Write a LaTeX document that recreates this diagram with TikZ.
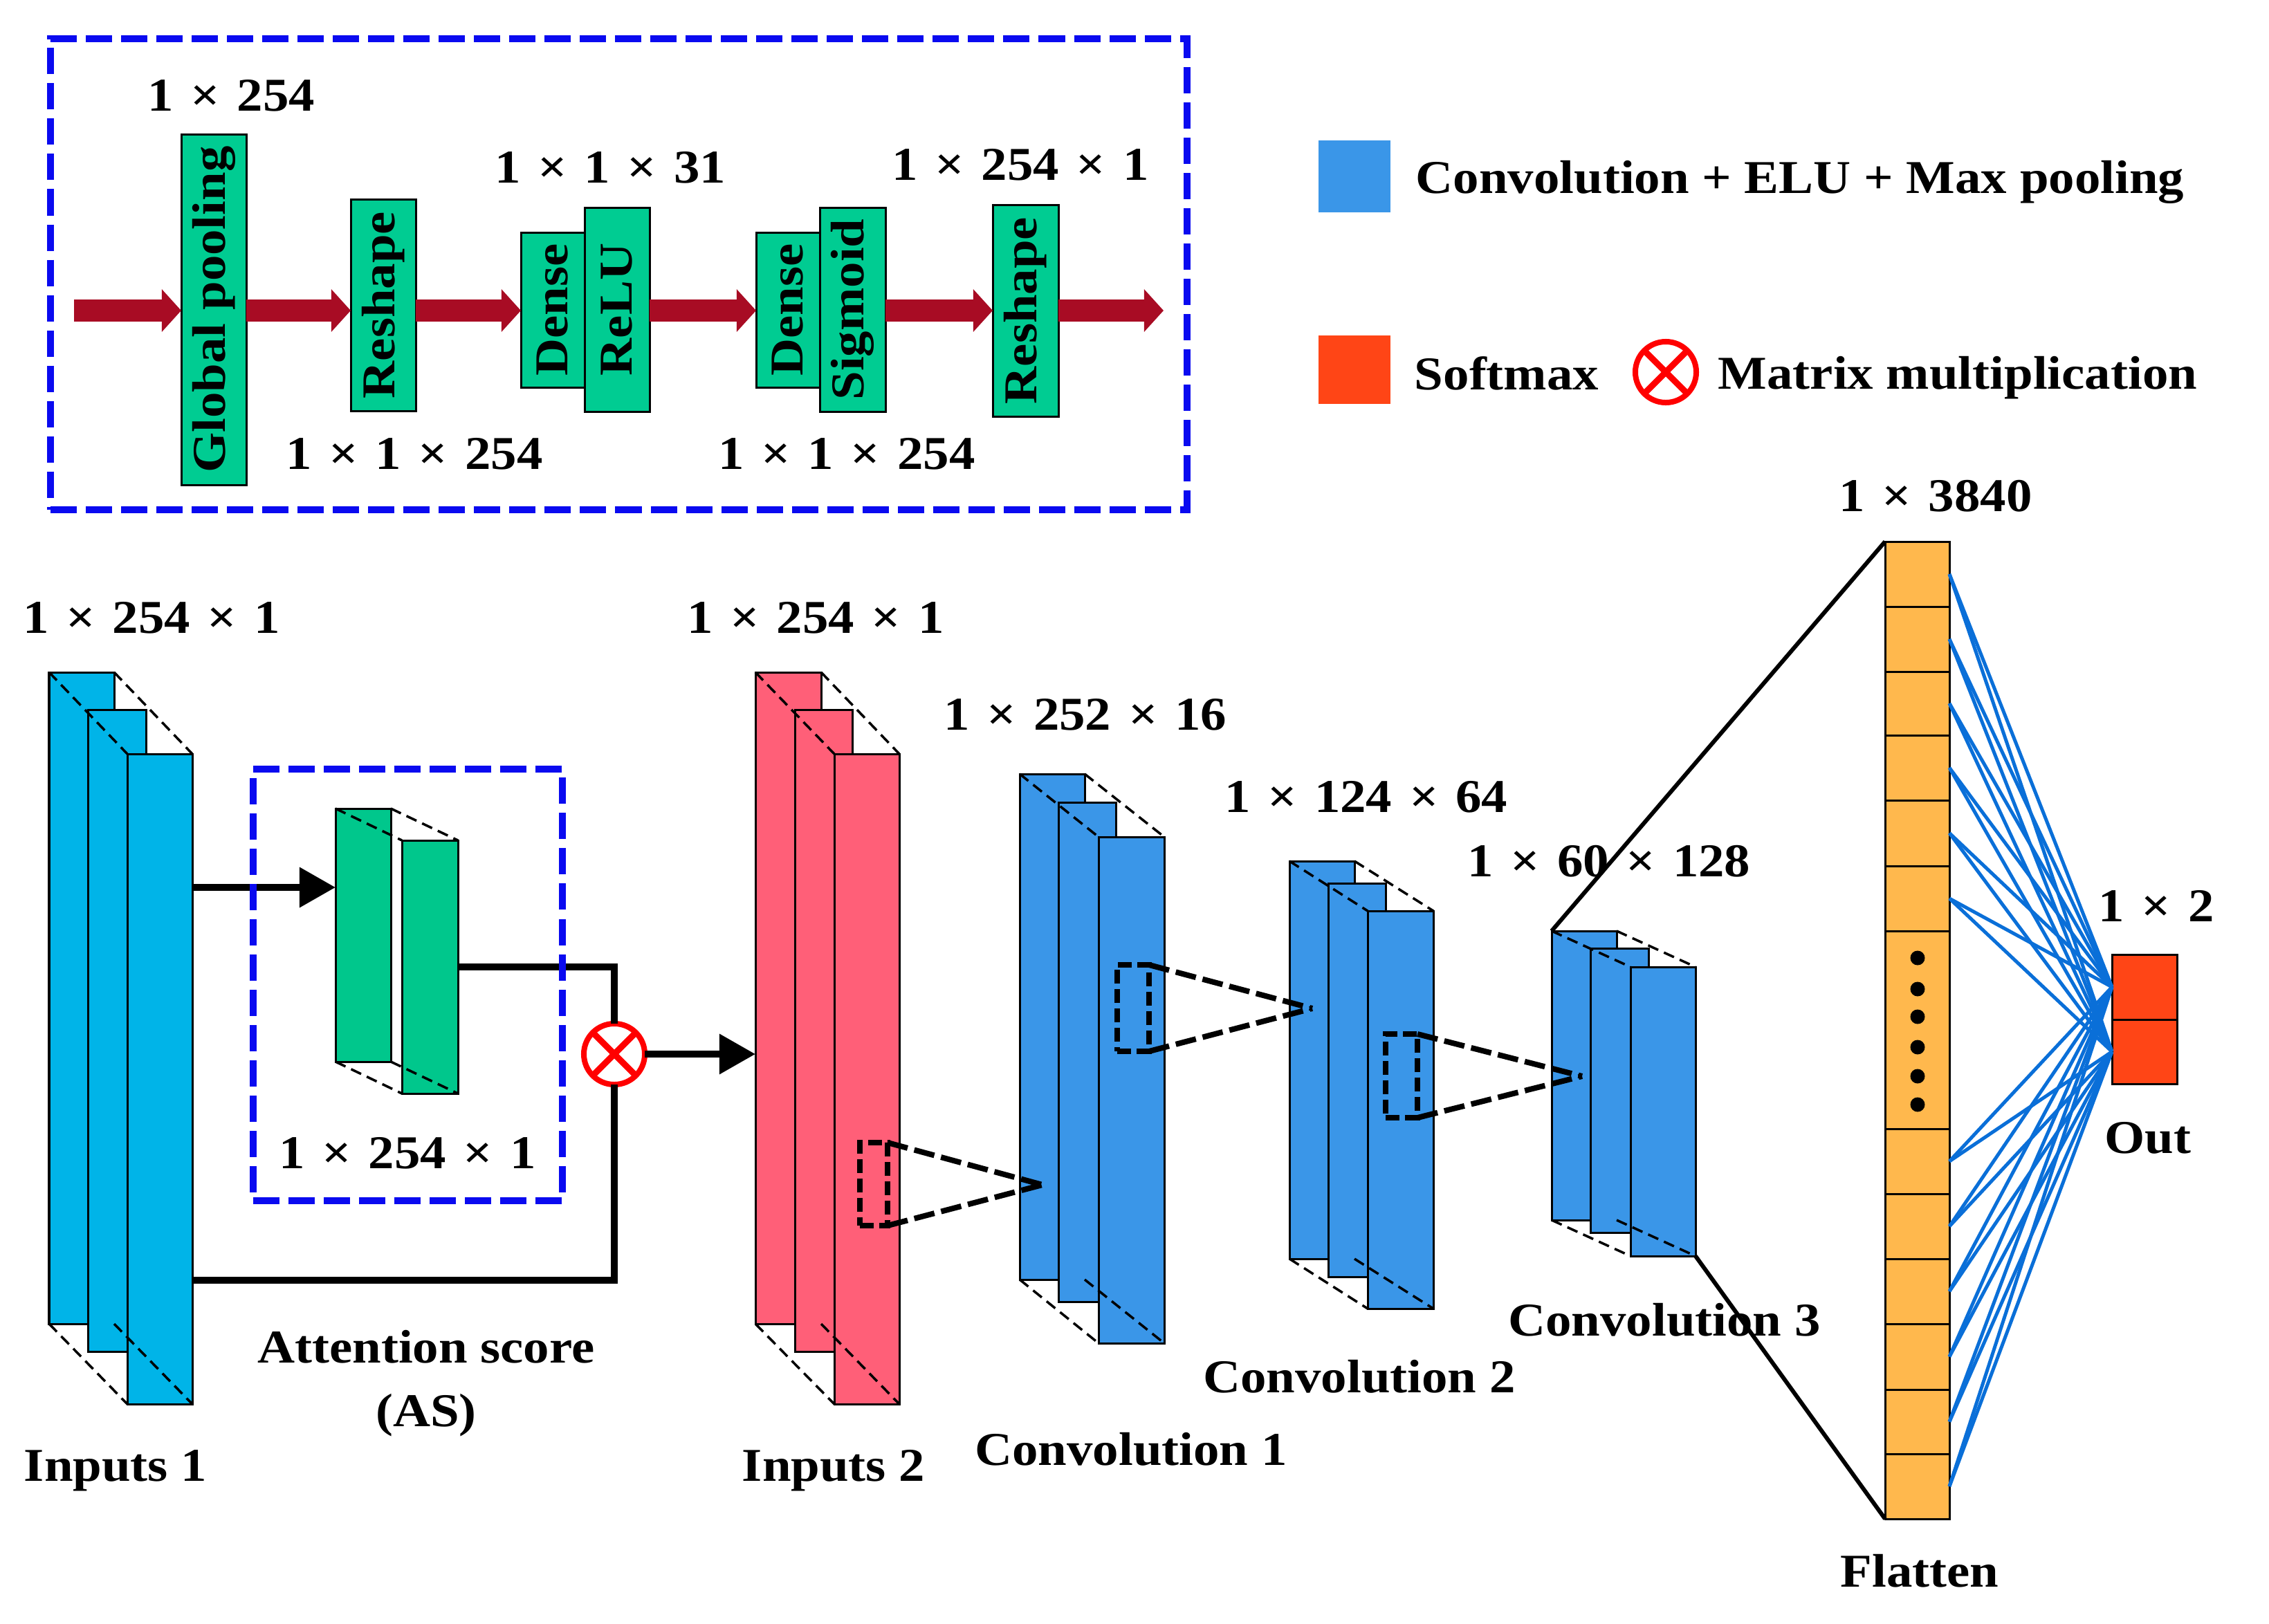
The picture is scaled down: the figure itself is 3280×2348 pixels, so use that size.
\documentclass[tikz,border=0pt]{standalone}
\usepackage{fontspec}
\setmainfont{Liberation Serif}[FakeStretch=1.1]
\usetikzlibrary{arrows.meta}
\definecolor{topgreen}{HTML}{00CC92}
\definecolor{asgreen}{HTML}{00C78C}
\definecolor{inblue}{HTML}{00B4E8}
\definecolor{inred}{HTML}{FF5F78}
\definecolor{convblue}{HTML}{3A96E8}
\definecolor{flatorange}{HTML}{FFB84D}
\definecolor{outred}{HTML}{FF4516}
\definecolor{arrowred}{HTML}{A80C24}
\definecolor{linkblue}{HTML}{0A6FD8}
\definecolor{boxblue}{HTML}{0A0AF0}
\tikzset{
  layer/.style={draw=black,line width=0.03cm,inner sep=0pt,outer sep=0pt},
  lbl/.style={font=\fontsize{19.35}{26.2}\selectfont\bfseries,align=center,inner sep=0pt},
  depth/.style={draw=black,line width=0.035cm,dash pattern=on 0.16cm off 0.09cm},
  panel/.style={draw=boxblue,line width=0.1cm,dash pattern=on 0.38cm off 0.13cm,inner sep=0pt,outer sep=0pt},
  window/.style={draw=black,line width=0.08cm,dash pattern=on 0.2cm off 0.08cm,inner sep=0pt,outer sep=0pt},
  zoomline/.style={draw=black,line width=0.08cm,dash pattern=on 0.3cm off 0.1cm},
  redarrow/.style={draw=arrowred,line width=0.32cm,-{Triangle[length=0.28cm,width=0.6cm]}},
  conn/.style={draw=black,line width=0.1cm},
  connarrow/.style={conn,-{Triangle[length=0.52cm,width=0.56cm]}},
  fan/.style={draw=black,line width=0.06cm},
  link/.style={draw=linkblue,line width=0.05cm},
  mulnode/.style={circle,draw=red,fill=white,line width=0.08cm,minimum size=0.88cm,inner sep=0pt,outer sep=0pt},
  mulcross/.style={draw=red,line width=0.09cm},
  flatdot/.style={circle,fill=black,minimum size=0.21cm,inner sep=0pt}
}
\newcommand{\boxat}[7]{\node[#1,minimum width={(#5-#3)*0.01cm},minimum height={(#6-#4)*0.01cm}] (#2) at ({(#3+#5)/2},{(#4+#6)/2}) {#7};}
\newcommand{\sidetext}[1]{\rotatebox{90}{\fontsize{19.35}{23}\selectfont\bfseries #1}}
\newcommand{\tms}{\hspace{0.06cm}×\hspace{0.06cm}}
\newcommand{\depthlines}[2]{
\draw[depth] (#1.north west) -- (#2.north west);
\draw[depth] (#1.north east) -- (#2.north east);
\draw[depth] (#1.south west) -- (#2.south west);
\draw[depth] (#1.south east) -- (#2.south east);
}
\begin{document}
\begin{tikzpicture}[x=0.01cm,y=-0.01cm]
\useasboundingbox (0,0) rectangle (3280,2348);

\boxat{panel}{sepanel}{73}{56}{1716}{737}{}
\boxat{layer,fill=topgreen}{gp}{262}{194}{356}{701}{\sidetext{Global pooling}}
\boxat{layer,fill=topgreen}{rs1}{507}{288}{601}{594}{\sidetext{Reshape}}
\boxat{layer,fill=topgreen}{ds1}{753}{336}{845}{560}{\sidetext{Dense}}
\boxat{layer,fill=topgreen}{relu}{845}{300}{939}{595}{\sidetext{ReLU}}
\boxat{layer,fill=topgreen}{ds2}{1093}{336}{1185}{560}{\sidetext{Dense}}
\boxat{layer,fill=topgreen}{sig}{1185}{300}{1280}{595}{\sidetext{Sigmoid}}
\boxat{layer,fill=topgreen}{rs2}{1435}{296}{1530}{602}{\sidetext{Reshape}}
\coordinate (sein) at (107,449);
\coordinate (seout) at (1682,449);
\draw[redarrow] (sein) -- (gp.west |- sein);
\draw[redarrow] (gp.east |- sein) -- (rs1.west |- sein);
\draw[redarrow] (rs1.east |- sein) -- (ds1.west |- sein);
\draw[redarrow] (relu.east |- sein) -- (ds2.west |- sein);
\draw[redarrow] (sig.east |- sein) -- (rs2.west |- sein);
\draw[redarrow] (rs2.east |- sein) -- (seout);
\node[lbl] (segp) at (334,138) {1 \tms{} 254};
\node[lbl] (sea) at (882,242) {1 \tms{} 1 \tms{} 31};
\node[lbl] (seb) at (1475,238) {1 \tms{} 254 \tms{} 1};
\node[lbl] (sec) at (599,656) {1 \tms{} 1 \tms{} 254};
\node[lbl] (sed) at (1224,656) {1 \tms{} 1 \tms{} 254};

\boxat{layer,draw=none,fill=convblue}{keyconv}{1906}{203}{2010}{307}{}
\boxat{layer,draw=none,fill=outred}{keysoft}{1906}{485}{2010}{584}{}
\node[mulnode] (keymul) at (2408,538) {};
\draw[mulcross] (keymul.north west) -- (keymul.south east);
\draw[mulcross] (keymul.north east) -- (keymul.south west);
\node[lbl] (keyconvt) at (2602,263) {Convolution + ELU + Max pooling};
\node[lbl] (keysoftt) at (2178,540) {Softmax};
\node[lbl] (keymult) at (2830,546) {Matrix multiplication};

\boxat{layer,fill=inblue}{ia}{71}{972}{165}{1914}{}
\boxat{layer,fill=inblue}{ib}{127}{1026}{211}{1954}{}
\boxat{layer,fill=inblue}{ic}{184}{1090}{278}{2030}{}
\depthlines{ia}{ic}
\node[lbl] (isize) at (219,893) {1 \tms{} 254 \tms{} 1};
\node[lbl] (iname) at (167,2126) {Inputs 1};

\boxat{layer,fill=asgreen}{ga}{485}{1169}{565}{1535}{}
\boxat{layer,fill=asgreen}{gb}{581}{1215}{662}{1581}{}
\depthlines{ga}{gb}
\node[lbl] (assize) at (589,1667) {1 \tms{} 254 \tms{} 1};
\node[lbl] (asname) at (616,2000) {Attention score\\(AS)};

\boxat{layer,fill=inred}{ja}{1092}{972}{1187}{1914}{}
\boxat{layer,fill=inred}{jb}{1149}{1026}{1232}{1954}{}
\boxat{layer,fill=inred}{jc}{1206}{1090}{1300}{2030}{}
\depthlines{ja}{jc}
\node[lbl] (jsize) at (1179,893) {1 \tms{} 254 \tms{} 1};
\node[lbl] (jname) at (1205,2126) {Inputs 2};

\node[mulnode] (mul) at (888,1524) {};
\draw[mulcross] (mul.north west) -- (mul.south east);
\draw[mulcross] (mul.north east) -- (mul.south west);
\coordinate (gin) at (485,1283);
\coordinate (iout) at (278,1851);
\draw[connarrow] (ic.east |- gin) -- (gin);
\draw[conn] (gb.east) -| (mul.north);
\draw[conn] (iout) -| (mul.south);
\draw[connarrow] (mul.east) -- (ja.west |- mul.east);
\boxat{panel}{aspanel}{366}{1112}{813}{1736}{}

\boxat{layer,fill=convblue}{ca}{1474}{1119}{1568}{1850}{}
\boxat{layer,fill=convblue}{cb}{1530}{1160}{1613}{1882}{}
\boxat{layer,fill=convblue}{cc}{1588}{1210}{1683}{1942}{}
\depthlines{ca}{cc}
\node[lbl] (csize) at (1569,1033) {1 \tms{} 252 \tms{} 16};
\node[lbl] (cname) at (1635,2095) {Convolution 1};

\boxat{layer,fill=convblue}{da}{1864}{1245}{1958}{1820}{}
\boxat{layer,fill=convblue}{db}{1920}{1277}{2003}{1846}{}
\boxat{layer,fill=convblue}{dc}{1977}{1317}{2072}{1892}{}
\depthlines{da}{dc}
\node[lbl] (dsize) at (1975,1152) {1 \tms{} 124 \tms{} 64};
\node[lbl] (dname) at (1965,1990) {Convolution 2};

\boxat{layer,fill=convblue}{ea}{2243}{1346}{2337}{1764}{}
\boxat{layer,fill=convblue}{eb}{2299}{1371}{2383}{1782}{}
\boxat{layer,fill=convblue}{ec}{2357}{1398}{2451}{1816}{}
\depthlines{ea}{ec}
\node[lbl] (esize) at (2326,1245) {1 \tms{} 60 \tms{} 128};
\node[lbl] (ename) at (2406,1908) {Convolution 3};

\boxat{window}{wa}{1243}{1652}{1283}{1772}{}
\boxat{window}{wb}{1615}{1395}{1661}{1520}{}
\boxat{window}{wc}{2003}{1495}{2049}{1616}{}
\coordinate (apexa) at (1507,1713);
\coordinate (apexb) at (1897,1458);
\coordinate (apexc) at (2287,1556);
\draw[zoomline] (wa.north east) -- (apexa);
\draw[zoomline] (wa.south east) -- (apexa);
\draw[zoomline] (wb.north east) -- (apexb);
\draw[zoomline] (wb.south east) -- (apexb);
\draw[zoomline] (wc.north east) -- (apexc);
\draw[zoomline] (wc.south east) -- (apexc);

\foreach \n/\ya/\yb in {1/783/877,2/877/971,3/971/1063,4/1063/1157,5/1157/1252,6/1252/1346,7/1346/1632,8/1632/1726,9/1726/1820,10/1820/1914,11/1914/2009,12/2009/2102,13/2102/2196}
  {\boxat{layer,fill=flatorange}{f\n}{2725}{\ya}{2818}{\yb}{}}
\foreach \n/\y in {1/1385,2/1430,3/1470,4/1514,5/1556,6/1597}
  {\node[flatdot] (dot\n) at (2772,\y) {};}
\boxat{layer,fill=outred}{oa}{3053}{1380}{3147}{1474}{}
\boxat{layer,fill=outred}{ob}{3053}{1474}{3147}{1567}{}
\foreach \n in {1,2,3,4,5,6,8,9,10,11,12,13}
{
\draw[link] (f\n.east) -- (oa.west);
\draw[link] (f\n.east) -- (ob.west);
}
\draw[fan] (ea.north west) -- (f1.north west);
\draw[fan] (ec.south east) -- (f13.south west);
\node[lbl] (fsize) at (2798,717) {1 \tms{} 3840};
\node[lbl] (fname) at (2775,2271) {Flatten};
\node[lbl] (osize) at (3117,1310) {1 \tms{} 2};
\node[lbl] (oname) at (3105,1645) {Out};
\end{tikzpicture}
\end{document}
